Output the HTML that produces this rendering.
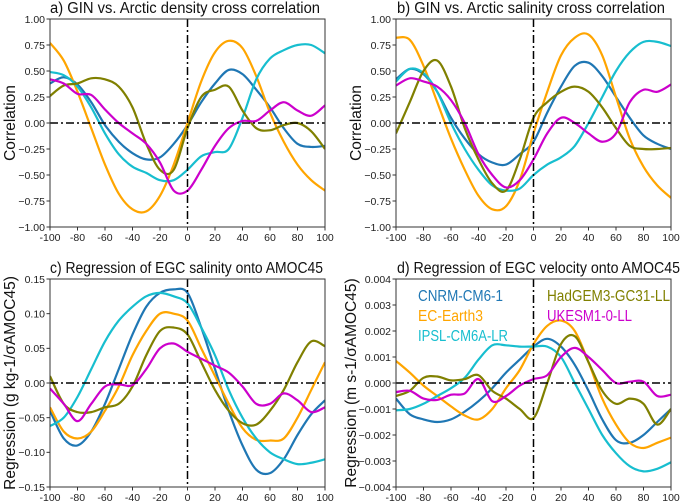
<!DOCTYPE html>
<html><head><meta charset="utf-8"><style>
html,body{margin:0;padding:0;background:#fff;}
svg{display:block;font-family:"Liberation Sans","DejaVu Sans",sans-serif;}
</style></head><body>
<svg id="fig" width="685" height="503" viewBox="0 0 685 503" xmlns="http://www.w3.org/2000/svg"></svg>
<script>
const lags=[-100,-90,-80,-70,-60,-50,-40,-30,-20,-10,0,10,20,30,40,50,60,70,80,90,100];
const xTicks=[-100,-80,-60,-40,-20,0,20,40,60,80,100];
const models=["CNRM-CM6-1","EC-Earth3","IPSL-CM6A-LR","HadGEM3-GC31-LL","UKESM1-0-LL"];
const colors=["#1f77b4","#ffa500","#17becf","#808000","#cc00cc"];
// panel a
const aCNRM=[0.38,0.44,0.37,0.2,-0.02,-0.18,-0.29,-0.35,-0.33,-0.2,-0.02,0.2,0.38,0.51,0.47,0.32,0.15,-0.05,-0.2,-0.23,-0.22];
const aEC=[0.77,0.6,0.3,-0.05,-0.4,-0.68,-0.83,-0.85,-0.7,-0.4,0.0,0.4,0.68,0.79,0.72,0.45,0.1,-0.18,-0.4,-0.55,-0.65];
const aIPSL=[0.49,0.46,0.35,0.15,-0.1,-0.3,-0.42,-0.48,-0.55,-0.55,-0.45,-0.32,-0.28,-0.25,0.05,0.42,0.62,0.7,0.75,0.75,0.67];
const aHad=[0.26,0.36,0.38,0.43,0.42,0.35,0.15,-0.2,-0.45,-0.45,-0.05,0.25,0.32,0.35,0.12,-0.05,-0.07,-0.02,0.0,-0.08,-0.25];
const aUK=[0.42,0.38,0.28,0.27,0.13,0.0,-0.1,-0.2,-0.38,-0.65,-0.65,-0.45,-0.22,-0.05,0.02,0.02,0.12,0.2,0.12,0.07,0.17];
// panel b
const bCNRM=[0.42,0.52,0.47,0.3,0.05,-0.15,-0.3,-0.38,-0.4,-0.3,-0.18,0.1,0.35,0.55,0.58,0.45,0.25,0.05,-0.12,-0.2,-0.25];
const bEC=[0.82,0.8,0.55,0.2,-0.15,-0.45,-0.7,-0.83,-0.8,-0.55,-0.1,0.3,0.65,0.82,0.85,0.65,0.25,-0.15,-0.42,-0.6,-0.72];
const bIPSL=[0.4,0.52,0.48,0.3,0.0,-0.25,-0.45,-0.6,-0.65,-0.63,-0.5,-0.4,-0.33,-0.22,0.0,0.25,0.5,0.68,0.78,0.78,0.74];
const bHad=[-0.1,0.2,0.5,0.6,0.35,-0.05,-0.35,-0.58,-0.65,-0.35,0.05,0.2,0.3,0.35,0.3,0.15,-0.05,-0.22,-0.25,-0.25,-0.24];
const bUK=[0.36,0.43,0.4,0.35,0.22,0.0,-0.3,-0.5,-0.62,-0.55,-0.35,-0.1,0.05,0.0,-0.1,-0.18,-0.1,0.2,0.32,0.3,0.37];
// panel c
const cCNRM=[-0.04,-0.08,-0.09,-0.07,-0.03,0.02,0.07,0.11,0.13,0.135,0.13,0.08,0.02,-0.04,-0.09,-0.125,-0.13,-0.11,-0.075,-0.045,-0.025];
const cEC=[-0.035,-0.07,-0.08,-0.07,-0.04,-0.005,0.04,0.075,0.1,0.1,0.09,0.05,0.01,-0.03,-0.065,-0.082,-0.083,-0.08,-0.05,-0.01,0.03];
const cIPSL=[-0.062,-0.05,-0.02,0.02,0.06,0.09,0.11,0.125,0.13,0.125,0.115,0.08,0.04,-0.01,-0.05,-0.08,-0.1,-0.11,-0.117,-0.115,-0.11];
const cHad=[0.01,-0.03,-0.042,-0.042,-0.035,-0.03,-0.005,0.04,0.075,0.08,0.07,0.03,-0.01,-0.04,-0.058,-0.06,-0.04,-0.01,0.03,0.06,0.053];
const cUK=[-0.008,-0.03,-0.055,-0.03,-0.005,-0.002,-0.003,0.02,0.05,0.057,0.045,0.035,0.025,0.015,-0.005,-0.03,-0.03,-0.015,-0.025,-0.042,-0.035];
// panel d
const dCNRM=[-0.0006,-0.0012,-0.0014,-0.0015,-0.0014,-0.0011,-0.0007,-0.0002,0.0004,0.0009,0.0014,0.0017,0.0014,0.0007,-0.0003,-0.0014,-0.0022,-0.0023,-0.002,-0.0015,-0.001];
const dEC=[0.00085,0.0004,-0.0001,-0.0005,-0.0009,-0.00125,-0.0014,-0.001,-0.0002,0.0005,0.0015,0.0022,0.0024,0.002,0.0008,-0.0006,-0.0016,-0.0023,-0.0025,-0.0023,-0.0021];
const dIPSL=[-0.00105,-0.001,-0.0008,-0.0005,-0.0002,0.0002,0.0009,0.00145,0.00145,0.0014,0.0014,0.0014,0.001,0.0,-0.001,-0.002,-0.0027,-0.0032,-0.0034,-0.0033,-0.00305];
const dHad=[-0.0005,-0.0003,0.0002,0.00025,0.0001,0.00015,0.0003,-0.0003,-0.0006,-0.001,-0.00135,0.0,0.0015,0.0018,0.0008,-0.0003,-0.0008,-0.0006,-0.0008,-0.0016,-0.001];
const dUK=[-0.00035,-0.0003,-0.0006,-0.00065,-0.00045,-0.0004,0.00015,-0.0007,-0.0005,-0.0001,0.00015,0.0003,0.001,0.00135,0.001,0.0005,0.0,0.00005,0.00005,-0.0005,-0.00045];
const aTicks=[1.0,0.75,0.5,0.25,0.0,-0.25,-0.5,-0.75,-1.0];
const cTicks=[0.15,0.10,0.05,0.0,-0.05,-0.10,-0.15];
const dTicks=[0.004,0.003,0.002,0.001,0.0,-0.001,-0.002,-0.003,-0.004];

const NS="http://www.w3.org/2000/svg";
const svg=document.getElementById('fig');
function mk(tag,attrs,parent){const e=document.createElementNS(NS,tag);for(const k in attrs)e.setAttribute(k,attrs[k]);(parent||svg).appendChild(e);return e;}
function smooth(pts){let d=`M${pts[0][0]},${pts[0][1]}`;for(let i=0;i<pts.length-1;i++){const p0=pts[Math.max(0,i-1)],p1=pts[i],p2=pts[i+1],p3=pts[Math.min(pts.length-1,i+2)];
const c1x=p1[0]+(p2[0]-p0[0])/6,c1y=p1[1]+(p2[1]-p0[1])/6,c2x=p2[0]-(p3[0]-p1[0])/6,c2y=p2[1]-(p3[1]-p1[1])/6;
d+=` C${c1x.toFixed(2)},${c1y.toFixed(2)} ${c2x.toFixed(2)},${c2y.toFixed(2)} ${p2[0].toFixed(2)},${p2[1].toFixed(2)}`;}return d;}

function panel(key,x0,x1,y0,y1,ymax,ymin,ticks,fmt,title,tx0,tx1,ylabel,ylx,series){
  const g=mk('g',{});
  
  
  const sx=v=>x0+(v+100)/200*(x1-x0);
  const sy=v=>y0+(ymax-v)/(ymax-ymin)*(y1-y0);
  const clip=mk('clipPath',{id:'clip'+key},g);mk('rect',{x:x0,y:y0,width:x1-x0,height:y1-y0},clip);
  series.forEach((s,i)=>{
    const p=mk('path',{d:smooth(lags.map((l,j)=>[sx(l),sy(s[j])])),fill:'none',stroke:colors[i],'stroke-width':2.2,'clip-path':`url(#clip${key})`},g);
    
    
  });
  const hz=mk('line',{x1:x0,x2:x1,y1:sy(0),y2:sy(0),stroke:'#000','stroke-width':1.5,'stroke-dasharray':'8,3,2,3'},g);
  
  const vz=mk('line',{x1:sx(0),x2:sx(0),y1:y0,y2:y1,stroke:'#000','stroke-width':1.5,'stroke-dasharray':'8,3,2,3'},g);
  
  const fr=mk('rect',{x:x0,y:y0,width:x1-x0,height:y1-y0,fill:'none',stroke:'#333','stroke-width':1},g);
  
  xTicks.forEach(t=>{
    mk('line',{x1:sx(t),x2:sx(t),y1:y1,y2:y1+3.5,stroke:'#333'},g);
    const tx=mk('text',{x:sx(t),y:y1+14,'font-size':10.5,'text-anchor':'middle',fill:'#222'},g);tx.textContent=t;
    
  });
  ticks.forEach(t=>{
    mk('line',{x1:x0-3.5,x2:x0,y1:sy(t),y2:sy(t),stroke:'#333'},g);
    const tx=mk('text',{x:x0-5,y:sy(t)+3.8,'font-size':10.5,'text-anchor':'end',fill:'#222'},g);tx.textContent=fmt(t);
    
  });
  const tt=mk('text',{x:tx0,y:y0-6,'font-size':15.5,fill:'#111',textLength:tx1-tx0,lengthAdjust:'spacingAndGlyphs'},g);tt.textContent=title;
  
  const yl=mk('text',{x:0,y:0,'font-size':15.5,'text-anchor':'middle',fill:'#111',transform:`translate(${ylx},${(y0+y1)/2}) rotate(-90)`},g);yl.textContent=ylabel;
  
}
const m=v=>(v<0?'\u2212':'')+Math.abs(v).toFixed(2);
const m3=v=>(v<0?'\u2212':'')+Math.abs(v).toFixed(3);
panel('a',50,325,19,227,1,-1,aTicks,m,'a) GIN vs. Arctic density cross correlation',50,320,'Correlation',15,[aCNRM,aEC,aIPSL,aHad,aUK]);
panel('b',396,671,19,227,1,-1,aTicks,m,'b) GIN vs. Arctic salinity cross correlation',397,665,'Correlation',361,[bCNRM,bEC,bIPSL,bHad,bUK]);
panel('c',50,325,279,487,0.15,-0.15,cTicks,m,'c) Regression of EGC salinity onto AMOC45',50,323,'Regression (g kg-1/\u03c3AMOC45)',15,[cCNRM,cEC,cIPSL,cHad,cUK]);
panel('d',396,671,279,487,0.004,-0.004,dTicks,m3,'d) Regression of EGC velocity onto AMOC45',397,680,'Regression (m s-1/\u03c3AMOC45)',356,[dCNRM,dEC,dIPSL,dHad,dUK]);
const legPos=[[418,301],[418,321],[418,341],[547,301],[547,321]];
const legLen=[85,65,90,123,85];
models.forEach((n,i)=>{
  const t=mk('text',{x:legPos[i][0],y:legPos[i][1],'font-size':15.5,fill:colors[i],textLength:legLen[i],lengthAdjust:'spacingAndGlyphs'});t.textContent=n;
  
  
});
</script>
</body></html>
